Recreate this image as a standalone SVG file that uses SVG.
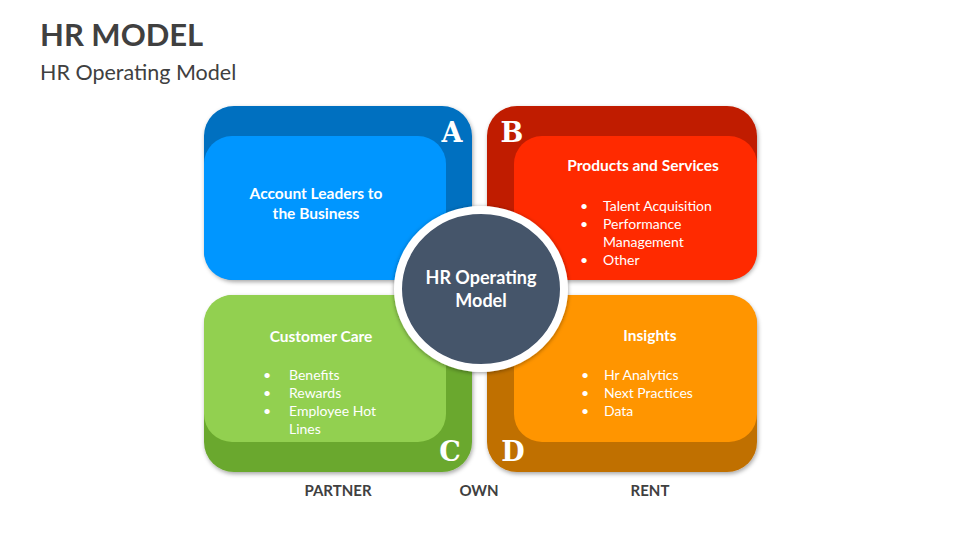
<svg xmlns="http://www.w3.org/2000/svg" width="960" height="540" viewBox="0 0 960 540">
<defs>
<filter id="sh" x="-10%" y="-10%" width="120%" height="125%">
<feDropShadow dx="1" dy="2" stdDeviation="2" flood-color="#000" flood-opacity="0.35"/>
</filter>
<filter id="sh2" x="-10%" y="-10%" width="120%" height="120%">
<feDropShadow dx="0" dy="1" stdDeviation="2" flood-color="#000" flood-opacity="0.4"/>
</filter>
</defs>
<style>
.t{font-family:Lato,"Open Sans","Liberation Sans",sans-serif;fill:#fff}
.h{font-weight:bold;font-size:15.5px}
.b{font-size:14px}
.l{font-family:"DejaVu Serif","Liberation Serif",serif;font-weight:bold;font-size:27px;fill:#fff}
.g{font-family:Lato,"Open Sans","Liberation Sans",sans-serif;fill:#404040}
</style>
<rect width="960" height="540" fill="#fff"/>
<text class="g" x="40" y="46" font-size="31" font-weight="bold">HR MODEL</text>
<text class="g" x="40" y="80" font-size="21.5">HR Operating Model</text>

<g id="nodeA">
<rect x="204" y="106" width="268" height="174" rx="30" fill="#0070C0" filter="url(#sh)"/>
<rect x="204" y="136" width="242" height="144" rx="28" fill="#0096FF"/>
<text class="l" x="452" y="142" text-anchor="middle">A</text>
<text class="t h" x="316" y="199" text-anchor="middle">Account Leaders to</text>
<text class="t h" x="316" y="219" text-anchor="middle">the Business</text>
</g>

<g id="nodeB">
<rect x="487" y="106" width="270" height="174" rx="30" fill="#C01E00" filter="url(#sh)"/>
<rect x="514" y="136" width="243" height="144" rx="28" fill="#FF2A00"/>
<text class="l" x="512" y="142" text-anchor="middle">B</text>
<text class="t h" x="643" y="171" text-anchor="middle">Products and Services</text>
<g class="t b">
<text x="580" y="211">•</text><text x="603" y="211">Talent Acquisition</text>
<text x="580" y="229">•</text><text x="603" y="229">Performance</text>
<text x="603" y="247">Management</text>
<text x="580" y="265">•</text><text x="603" y="265">Other</text>
</g>
</g>

<g id="nodeC">
<rect x="204" y="295" width="268" height="177" rx="30" fill="#6AA82E" filter="url(#sh)"/>
<rect x="204" y="295" width="242" height="147" rx="28" fill="#92D050"/>
<text class="l" x="450" y="461" text-anchor="middle">C</text>
<text class="t h" x="321" y="342" text-anchor="middle">Customer Care</text>
<g class="t b">
<text x="263" y="380">•</text><text x="289" y="380">Benefits</text>
<text x="263" y="398">•</text><text x="289" y="398">Rewards</text>
<text x="263" y="416">•</text><text x="289" y="416">Employee Hot</text>
<text x="289" y="434">Lines</text>
</g>
</g>

<g id="nodeD">
<rect x="487" y="295" width="270" height="177" rx="30" fill="#C07000" filter="url(#sh)"/>
<rect x="514" y="295" width="243" height="147" rx="28" fill="#FF9500"/>
<text class="l" x="513" y="461" text-anchor="middle">D</text>
<text class="t h" x="650" y="341" text-anchor="middle">Insights</text>
<g class="t b">
<text x="581" y="380">•</text><text x="604" y="380">Hr Analytics</text>
<text x="581" y="398">•</text><text x="604" y="398">Next Practices</text>
<text x="581" y="416">•</text><text x="604" y="416">Data</text>
</g>
</g>

<g id="center">
<ellipse cx="481" cy="289" rx="83" ry="79" fill="#44546A" stroke="#fff" stroke-width="8" filter="url(#sh2)"/>
<text class="t" x="481" y="284" text-anchor="middle" font-weight="bold" font-size="18">HR Operating</text>
<text class="t" x="481" y="307" text-anchor="middle" font-weight="bold" font-size="18">Model</text>
</g>

<g id="connectors"></g>

<g id="labels" class="g" font-weight="bold" font-size="15">
<text x="338" y="496" text-anchor="middle">PARTNER</text>
<text x="479" y="496" text-anchor="middle">OWN</text>
<text x="650" y="496" text-anchor="middle">RENT</text>
</g>
</svg>
